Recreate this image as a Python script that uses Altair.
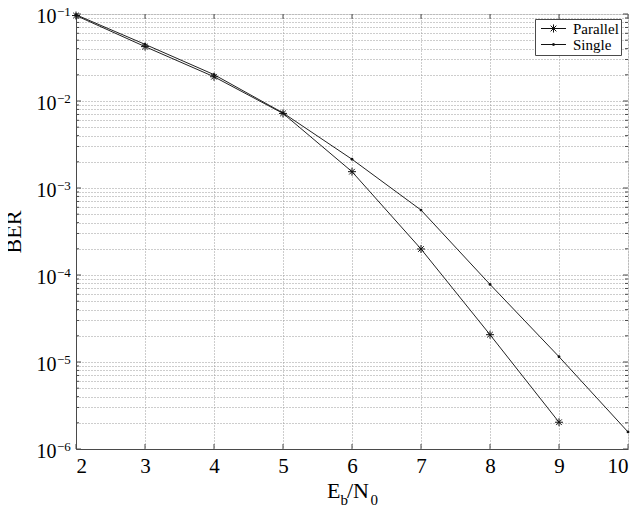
import altair as alt
import pandas as pd

# ---- data ----
series_names = ["Parallel", "Single"]
ebn0_parallel = [2, 3, 4, 5, 6, 7, 8, 9]
ber_parallel = [0.096, 0.0422, 0.0190, 0.0072, 0.00154, 0.000199, 2.06e-5, 2.03e-6]
ebn0_single = [2, 3, 4, 5, 6, 7, 8, 9, 10]
ber_single = [0.098, 0.0448, 0.0201, 0.0073, 0.00214, 0.000558, 7.8e-5, 1.15e-5, 1.57e-6]

x_ticks = [2, 3, 4, 5, 6, 7, 8, 9, 10]
y_decade_exponents = [-6, -5, -4, -3, -2, -1]
y_minor_mantissas = [1, 2, 3, 4, 5, 6, 7, 8, 9]

y_grid_values = [m * 10.0 ** e for e in y_decade_exponents[:-1] for m in y_minor_mantissas] + [0.1]

df = pd.concat([
    pd.DataFrame({"ebn0": ebn0_parallel, "ber": ber_parallel, "series": series_names[0]}),
    pd.DataFrame({"ebn0": ebn0_single, "ber": ber_single, "series": series_names[1]}),
], ignore_index=True)

sup_df = pd.DataFrame({
    "ber": [10.0 ** e for e in y_decade_exponents],
    "sup": ["\u2212" + str(-e) for e in y_decade_exponents],
})
xtick_df = pd.DataFrame({"ebn0": x_ticks})
ytick_df = pd.DataFrame({
    "ber": y_grid_values,
    "major": [abs(v - 10.0 ** round(__import__("math").log10(v))) < 1e-12 for v in y_grid_values],
})

FONT = "Liberation Serif, Times New Roman, serif"
W, H = 552, 435
GRID = "#9a9a9a"
FRAME = "#4a4a4a"

xenc = alt.X("ebn0:Q",
             scale=alt.Scale(domain=[2, 10], nice=False),
             axis=alt.Axis(values=x_ticks, grid=True, gridDash=[1, 2], gridColor=GRID,
                           ticks=False, domainColor=FRAME, labelFont=FONT, labelFontSize=21,
                           labelColor="black", labelPadding=6, title=None, format="d"))

label_expr = ("abs(log(datum.value)/LN10 - round(log(datum.value)/LN10)) < 0.001 ? '10' : ''")

yenc = alt.Y("ber:Q",
             scale=alt.Scale(type="log", domain=[1e-6, 1e-1], nice=False),
             axis=alt.Axis(values=y_grid_values, labelExpr=label_expr, grid=True, gridDash=[1, 2],
                           gridColor=GRID, ticks=False, domainColor=FRAME, labelFont=FONT,
                           labelFontSize=20, labelColor="black", labelPadding=20, labelOffset=2,
                           labelBaseline="middle", labelOverlap=False,
                           title="BER", titleFont=FONT, titleFontSize=22, titleFontWeight="normal",
                           titleColor="black", titleX=-56, titleY=H / 2, titleAngle=270,
                           titleAlign="center", titleBaseline="alphabetic"))

base = alt.Chart(df)

lines = base.mark_line(color="#222", strokeWidth=1).encode(x=xenc, y=yenc, detail="series:N")

asterisk = "M-1,0L1,0M0,-1L0,1M-0.7,-0.7L0.7,0.7M-0.7,0.7L0.7,-0.7"
pts_par = base.transform_filter(alt.datum.series == "Parallel").mark_point(
    shape=asterisk, size=64, filled=False, color="#111", strokeWidth=1, opacity=1
).encode(x=xenc, y=yenc)
pts_sin = base.transform_filter(alt.datum.series == "Single").mark_point(
    shape="circle", size=8, filled=True, color="#111", opacity=1
).encode(x=xenc, y=yenc)

leg_par = "M-2,0L2,0M-0.46,-0.46L0.46,0.46M-0.46,0.46L0.46,-0.46M0,-0.65L0,0.65"
leg_sin = "M-2,0L2,0M-0.15,-0.15L0.15,0.15M-0.15,0.15L0.15,-0.15M0,-0.22L0,0.22"
legend_layer = base.mark_point(opacity=0, filled=False, color="#111").encode(
    x=xenc, y=yenc,
    shape=alt.Shape("series:N",
                    scale=alt.Scale(domain=series_names, range=[leg_par, leg_sin]),
                    legend=alt.Legend(title=None, orient="none", legendX=459, legendY=5,
                                      padding=2, fillColor="white", strokeColor=FRAME,
                                      labelFont=FONT, labelFontSize=15, labelColor="black",
                                      labelExpr="datum.label + '\u00a0\u00a0'",
                                      symbolSize=156, symbolStrokeColor="#111",
                                      symbolStrokeWidth=1, symbolOpacity=1, clipHeight=15,
                                      symbolOffset=9, labelOffset=12, rowPadding=0)))

sup_layer = alt.Chart(sup_df).mark_text(
    font=FONT, fontSize=13, color="black", align="left", baseline="alphabetic", dy=2
).encode(x=alt.value(-19), y=yenc, text="sup:N")

# inward tick marks on all four sides
xt = alt.Chart(xtick_df)
xticks_bottom = xt.mark_rule(color=FRAME, strokeWidth=1).encode(x=xenc, y=alt.value(H), y2=alt.value(H - 5))
xticks_top = xt.mark_rule(color=FRAME, strokeWidth=1).encode(x=xenc, y=alt.value(0), y2=alt.value(5))
yt = alt.Chart(ytick_df)
yticks_left_major = yt.transform_filter("datum.major").mark_rule(color=FRAME, strokeWidth=1).encode(
    y=yenc, x=alt.value(0), x2=alt.value(5))
yticks_left_minor = yt.transform_filter("!datum.major").mark_rule(color=FRAME, strokeWidth=1).encode(
    y=yenc, x=alt.value(0), x2=alt.value(3))
yticks_right_major = yt.transform_filter("datum.major").mark_rule(color=FRAME, strokeWidth=1).encode(
    y=yenc, x=alt.value(W), x2=alt.value(W - 5))
yticks_right_minor = yt.transform_filter("!datum.major").mark_rule(color=FRAME, strokeWidth=1).encode(
    y=yenc, x=alt.value(W), x2=alt.value(W - 3))

def txt(s, x, y, size):
    return alt.Chart(pd.DataFrame({"t": [s]})).mark_text(
        text=s, font=FONT, fontSize=size, color="black", align="left", baseline="alphabetic"
    ).encode(x=alt.value(x), y=alt.value(y))

xtitle = txt("E", 251, 484, 22) + txt("b", 264.5, 491, 15) + txt("/N", 271, 484, 22) + txt("0", 294.5, 491, 15)

chart = alt.layer(
    xticks_bottom, xticks_top, yticks_left_major, yticks_left_minor,
    yticks_right_major, yticks_right_minor,
    lines, pts_par, pts_sin, legend_layer, sup_layer, xtitle
).properties(
    width=W, height=H,
    autosize=alt.AutoSizeParams(type="none"),
    padding={"left": 68, "top": 6, "right": 4, "bottom": 66},
).configure_view(stroke=FRAME, strokeWidth=1).configure(background="white")

chart.save("out.html", embed_options={"renderer": "svg", "actions": False})
